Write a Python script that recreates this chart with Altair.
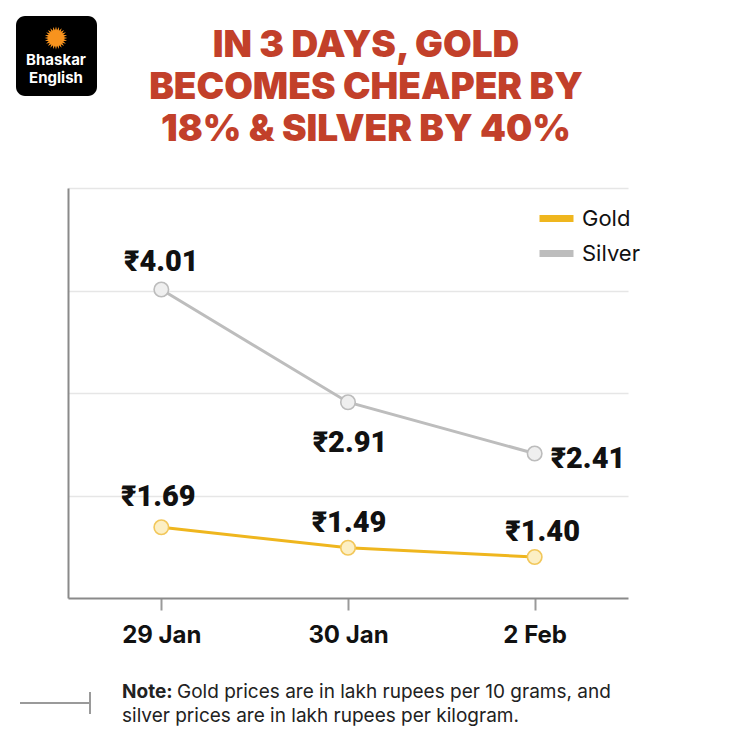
import altair as alt
import pandas as pd
import numpy as np

# ---- data ----
dates = ["29 Jan", "30 Jan", "2 Feb"]
series_names = ["Gold", "Silver"]
gold_values = [1.69, 1.49, 1.40]
silver_values = [4.01, 2.91, 2.41]

title_lines = ["IN 3 DAYS, GOLD", "BECOMES CHEAPER BY", "18% & SILVER BY 40%"]
logo_lines = ["Bhaskar", "English"]
note_head = "Note:"
note_line1 = "Gold prices are in lakh rupees per 10 grams, and"
note_line2 = "silver prices are in lakh rupees per kilogram."

line_colors = ["#efb61e", "#bdbdbd"]
point_fills = ["#fcefc4", "#efefef"]
point_strokes = ["#f2c75a", "#bcbcbc"]

rows = []
for s, vals in zip(series_names, [gold_values, silver_values]):
    for i, (d, v) in enumerate(zip(dates, vals)):
        rows.append({"date": d, "series": s, "value": v, "label": f"\u20b9{v:.2f}", "key": f"{s}{i}"})
df = pd.DataFrame(rows)

W, H = 560, 410
PL, PT = 60, 180  # plot origin inside the canvas (page margin 8 added by page)

X = alt.X("date:N", sort=dates,
          scale=alt.Scale(domain=dates, padding=0.5),
          axis=alt.Axis(title=None, labelAngle=0, labelFont="Inter", labelFontSize=24,
                        labelFontWeight=700, labelColor="#111111", tickSize=12,
                        tickColor="#9a9a9a", tickWidth=2, domainColor="#8a8a8a",
                        domainWidth=2, labelPadding=13, grid=False))
Y = alt.Y("value:Q", scale=alt.Scale(domain=[1, 5], nice=False, zero=False),
          axis=alt.Axis(title=None, values=[2, 3, 4, 5], labels=False, ticks=False,
                        grid=True, gridColor="#e6e6e6", gridWidth=1.5,
                        domainColor="#8a8a8a", domainWidth=2))

base = alt.Chart(df)

lines = base.mark_line(strokeWidth=3).encode(
    x=X, y=Y,
    color=alt.Color("series:N", scale=alt.Scale(domain=series_names, range=line_colors),
                    legend=alt.Legend(title=None, orient="none", legendX=468, legendY=10,
                                      symbolType="stroke", symbolStrokeWidth=7,
                                      symbolSize=1156, labelFont="Inter", labelFontSize=22,
                                      labelColor="#111111", labelOffset=5, rowPadding=0,
                                      padding=0)),
)

points = base.mark_circle(size=210, strokeWidth=1.6, opacity=1).encode(
    x=X, y=Y,
    fill=alt.Fill("series:N", scale=alt.Scale(domain=series_names, range=point_fills), legend=None),
    stroke=alt.Stroke("series:N", scale=alt.Scale(domain=series_names, range=point_strokes), legend=None),
)

def value_labels(keys, **kw):
    style = dict(font="Roboto", fontSize=29, fontWeight=900, color="#111111", baseline="middle")
    style.update(kw)
    return base.transform_filter(
        alt.FieldOneOfPredicate(field="key", oneOf=keys)
    ).mark_text(**style).encode(x=X, y=Y, text="label:N")

lab_s0 = value_labels(["Silver0"], dy=-27)
lab_s1 = value_labels(["Silver1"], dx=2, dy=41)
lab_s2 = value_labels(["Silver2"], align="left", dx=16, dy=6)
lab_g0 = value_labels(["Gold0"], dx=-3, dy=-30)
lab_g1 = value_labels(["Gold1"], dx=1, dy=-25)
lab_g2 = value_labels(["Gold2"], dx=8, dy=-25)

one = pd.DataFrame({"k": [0]})

title = alt.Chart(one).mark_text(
    font="Inter", fontSize=37, fontWeight=900, color="#c2402a", align="center",
    baseline="alphabetic", lineHeight=42,
).encode(text=alt.value(title_lines), x=alt.value(366 - 68), y=alt.value(57 - 188))

logo_box = alt.Chart(one).mark_rect(color="#000000", cornerRadius=9).encode(
    x=alt.value(16 - 68), x2=alt.value(97 - 68), y=alt.value(16 - 188), y2=alt.value(96 - 188))

n = 24
ang = np.linspace(0, 2 * np.pi, 2 * n, endpoint=False)
rad = np.where(np.arange(2 * n) % 2 == 0, 1.0, 0.68)
sun_path = "M" + " L".join(f"{r*np.cos(a):.3f},{r*np.sin(a):.3f}" for r, a in zip(rad, ang)) + " Z"
logo_sun = alt.Chart(one).mark_point(shape=sun_path, filled=True, color="#f7931e", size=520, opacity=1).encode(
    x=alt.value(56 - 68), y=alt.value(38 - 188))

logo_style = dict(font="Inter", fontSize=15, fontWeight="bold", color="#ffffff",
                  align="center", baseline="middle")
logo_t1 = alt.Chart(one).mark_text(**logo_style).encode(
    text=alt.value(logo_lines[0]), x=alt.value(56 - 68), y=alt.value(60 - 188))
logo_t2 = alt.Chart(one).mark_text(**logo_style).encode(
    text=alt.value(logo_lines[1]), x=alt.value(56 - 68), y=alt.value(78 - 188))

note_a = alt.Chart(one).mark_text(font="Inter", fontSize=19, fontWeight="bold", color="#222222",
                                  align="left", baseline="middle").encode(
    text=alt.value(note_head), x=alt.value(122 - 68), y=alt.value(692 - 188))
note_b = alt.Chart(one).mark_text(font="Inter", fontSize=19, color="#222222",
                                  align="left", baseline="middle").encode(
    text=alt.value(note_line1), x=alt.value(177 - 68), y=alt.value(692 - 188))
note_c = alt.Chart(one).mark_text(font="Inter", fontSize=19, color="#222222",
                                  align="left", baseline="middle").encode(
    text=alt.value(note_line2), x=alt.value(122 - 68), y=alt.value(716 - 188))

deco_h = alt.Chart(one).mark_rule(color="#9a9a9a", strokeWidth=2).encode(
    x=alt.value(20 - 68), x2=alt.value(90 - 68), y=alt.value(703 - 188))
deco_v = alt.Chart(one).mark_rule(color="#9a9a9a", strokeWidth=2).encode(
    x=alt.value(90 - 68), y=alt.value(692 - 188), y2=alt.value(714 - 188))

chart = alt.layer(
    lines, points, lab_s0, lab_s1, lab_s2, lab_g0, lab_g1, lab_g2,
    title, logo_box, logo_sun, logo_t1, logo_t2, note_a, note_b, note_c, deco_h, deco_v,
).resolve_scale(fill="independent", stroke="independent").properties(
    width=W, height=H,
    autosize=alt.AutoSizeParams(type="none"),
    padding={"left": PL, "top": PT, "right": 714 - PL - W, "bottom": 720 - PT - H},
    background="#ffffff",
).configure_view(stroke=None)

chart.save("out.html", embed_options={"renderer": "svg", "actions": False})
